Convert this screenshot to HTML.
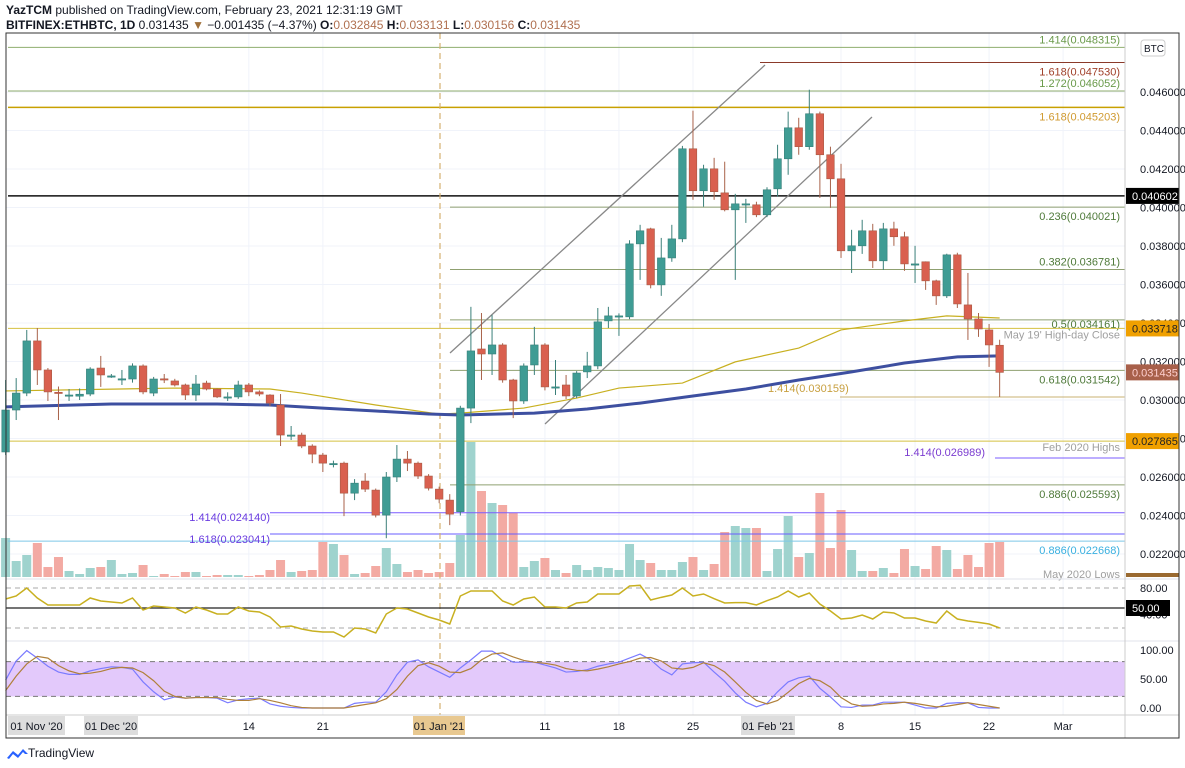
<!DOCTYPE html>
<html><head><meta charset="utf-8">
<style>
html,body{margin:0;padding:0;background:#fff;width:1185px;height:768px;overflow:hidden}
svg{display:block;font-family:"Liberation Sans",sans-serif}
</style></head>
<body>
<svg id="chart" width="1185" height="768" viewBox="0 0 1185 768">
  <rect x="0" y="0" width="1185" height="768" fill="#fff"/>
  <g font-size="12" fill="#131722">
    <text x="6" y="14"><tspan font-weight="bold">YazTCM</tspan> published on TradingView.com, February 23, 2021 12:31:19 GMT</text>
    <text x="6" y="29"><tspan font-weight="bold">BITFINEX:ETHBTC, 1D</tspan> 0.031435 <tspan fill="#a0703a">▼</tspan> −0.001435 (−4.37%) <tspan font-weight="bold">O:</tspan><tspan fill="#b07050">0.032845</tspan> <tspan font-weight="bold">H:</tspan><tspan fill="#b07050">0.033131</tspan> <tspan font-weight="bold">L:</tspan><tspan fill="#b07050">0.030156</tspan> <tspan font-weight="bold">C:</tspan><tspan fill="#b07050">0.031435</tspan></text>
  </g>
  <g id="grid"></g>
  <g id="vol"></g>
  <g id="ann"></g>
  <g id="ma"></g>
  <g id="candles"></g>
  <g id="ind"></g>
  <g id="axes"></g>
  <rect x="6" y="33" width="1173" height="705" fill="none" stroke="#333" stroke-width="1"/>
  <g>
    <path d="M7 758 l6 -7 l5 4 l5 -6 l5 5 l-3 0 l-2 -2 l-5 6 l-5 -4 l-4 5z" fill="#2962ff"/>
    <text x="28" y="757" font-size="12" fill="#131722">TradingView</text>
  </g>
</svg>
<script>
// Price values in units of 0.0001 BTC
const opens=[273,294.8,303.6,330.7,315.6,304,302.6,302,303.1,316.6,312.5,311,310.9,317.7,303.6,311,309.9,307.8,302.6,308.8,305.7,301.6,301.6,307.8,304.2,302.6,297.4,281.8,281.8,276.1,271.4,267,267.2,251.6,257.9,253.2,240.2,260,269.3,267.2,260.5,253.7,248,242,295.8,326.5,323.9,328.6,310.4,299.5,318.2,328.6,306.8,307.8,302.1,314.6,317.7,341.1,343.7,343.2,381.1,388.9,359.8,373.8,383.7,430.5,408.7,420.1,407.6,398.8,401.9,401.4,396.2,409.7,425.3,441.4,431.6,448.7,427.4,414.9,377.5,380.1,387.9,372.3,388.9,384.8,370.7,371.8,361.9,354.1,375.4,349.4,342.1,336.4,328.45];
const highs=[310.4,311.4,336.4,337.4,316.6,307,305.7,306,317,322.9,313.5,315.6,319,318.5,312,313.5,311,308.5,313,310,306,304,310,308.8,305,303,303.1,286.5,283,277,272.5,268.5,268,258.9,262,254,262.6,276.6,273.5,268,261.5,255,251.1,297,348.4,345.2,344.2,329.5,311,319,338,329.5,320.8,313,315,325,347.8,348.4,345,383,391,389.5,384.2,391,432,450.3,422.2,425.8,423.8,407.1,404.5,403,410.5,432.6,449.8,446.6,461.2,449.8,431.6,422.7,388.4,393.6,391.5,392,392.6,387.4,380.1,372,362.5,376,376.5,366,345.2,339.5,331.31];
const lows=[271.4,289.6,302,307.8,299.5,289.6,299.5,300,302,306.8,311.5,307.8,309,303,302,308.8,307,300,299.5,305,301,299.5,300.6,302,302,296.9,276.1,279.2,275,267.2,262.6,265,239.7,248,252.2,239,228.2,257.4,263.1,259,253,246.4,235,240,288,310.4,313,309,290.6,298,313,305,302.6,300.5,301,311.4,316,337.4,333.3,342,362.4,358,354.1,371.8,382,404,400.4,404,398,362.4,392,395,395,405.6,417,427.4,430,405,399.8,373.8,366,375.9,368.6,367.6,380.1,367.1,360.8,357.2,349.4,353,347.8,331.2,332.8,317.2,301.56];
const closes=[294.8,303.6,330.7,315.6,304.2,303.6,302.6,303,316.1,313,312.5,311,317.7,304.2,310.9,310.9,307.8,302.6,308.3,305.7,301.6,301.6,307.8,304.2,303.1,298.4,281.8,281.8,276.1,271.9,267.2,267,251.6,256.8,253.7,240.2,260,269.3,267.2,260.5,254.2,248.5,240.7,295.8,325.5,323.9,328.6,310.4,299.5,317.7,328.6,306.8,306.8,302.1,314,317.7,340.6,343.7,343.7,381.1,387.9,359.8,373.8,383.7,430.5,408.7,420.1,408.2,398.8,401.9,401.9,396.2,409.2,425.3,441.4,431.6,448.7,427.4,414.9,377.5,380.1,387.9,372.3,388.9,384.8,370.7,370.7,361.9,354.1,375.4,349.9,342.1,336.9,328.6,314.35];
const volumes=[39,16,22,34,10,20,6,3,9,10,17,3,4,12,1,3,1,5,5,1,2,2,2,1,2,7,17,5,6,7,35,33,22,3,4,11,29,13,5,7,4,5,14,42,135,86,74,72,64,10,16,19,7,4,12,7,10,9,7,33,17,14,7,7,15,20,7,13,45,51,49,49,6,28,61,20,24,84,29,67,27,6,6,9,4,28,11,8,31,27,8,22,10,34,35];
const ma200Idx=[0,10,20,25,30,35,40,43,50,55,60,65,70,75,80,85,90,94];
const ma200Val=[296.4,297.9,297.9,297.4,295.8,294.3,292.7,292.2,293.2,295.3,298.4,302.1,305.7,310.4,314.6,319.2,322.4,322.9];
const ma100Idx=[0,16,25,28,35,41,43,49,54,58,64,69,75,79,85,89,94];
const ma100Val=[304.7,306.2,305.7,303.6,297.4,292.7,293.2,295.8,301,306.2,308.8,319.8,327,336.4,341.1,343.7,342.6];
const rsiVals=[63.5,68,80,65,54.5,54.5,54.5,54.5,65,60.5,59,57.5,65,47,53,51.5,50,42.5,51.5,47,41,41,51.5,45.5,44,36.5,21.5,23,18.5,15.5,14,14,6.5,20,18.5,12.5,41,50,48.5,42.5,36.5,32,26,68,75.5,75.5,75.5,60.5,54.5,63.5,66.5,51.5,51.5,50,57.5,59,71,71,71,83,84,62,66,69.5,80,68,71,64,57.5,58,58,54.5,61,66.5,75.5,66.5,72.5,56,45.5,33.5,35,39.5,33.5,44,42.5,35,35,30.5,27.5,45.5,33.5,30.5,28.5,26,20];
const stochK=[48,81,99,86,72,62,58,58,64,68,71,70,67,45,28,14,19,17,18,18,17,9,14,16,17,7,3,1,0,0,0,0,0,8,10,10,28,57,79,83,71,62,53,69,83,98,98,88,79,79,79,74,69,62,63,66,72,76,79,86,93,83,67,57,76,78,79,62,46,26,10,2,8,28,45,52,55,34,19,2,1,5,5,10,10,10,5,0,0,8,9,9,1,0,0];
const stochD=[30,55,76,89,86,73,64,59,60,63,68,70,69,61,47,29,20,17,18,18,18,15,13,13,16,13,9,4,1,0,0,0,0,3,6,9,16,32,55,73,78,72,62,61,68,83,93,95,88,82,79,77,74,68,65,64,67,71,76,80,86,87,81,69,67,70,78,73,62,45,27,13,7,13,27,42,51,47,36,18,7,3,4,7,8,10,8,5,2,3,6,9,6,3,0];
const priceTicks=[0.022,0.024,0.026,0.028,0.030,0.032,0.034,0.036,0.038,0.040,0.042,0.044,0.046];
const dateLabels=["14","21","11","18","25","8","15","22","Mar"];
const dateIdx=[23,30,51,58,65,79,86,93,100];

const NS="http://www.w3.org/2000/svg";
function mk(parent,tag,attrs,txt){const e=document.createElementNS(NS,tag);for(const k in attrs)e.setAttribute(k,attrs[k]);if(txt!==undefined)e.textContent=txt;parent.appendChild(e);return e;}
const X=i=>5.6+i*10.575;
const Yp=v=>400-(v*1e-4-0.030)/0.002*38.5;
const YP=p=>400-(p-0.030)/0.002*38.5;
const Yv=h=>577-h;
const Yr=v=>608-(v-50)*0.6667;
const Ys=v=>708-v*0.58;
const G=id=>document.getElementById(id);

const grid=G('grid');
priceTicks.forEach(p=>{const l=mk(grid,'line',{x1:6,x2:1125,y1:YP(p),y2:YP(p),stroke:'#f0f3fa'});

});
dateIdx.forEach(i=>{const l=mk(grid,'line',{x1:X(i),x2:X(i),y1:33,y2:715,stroke:'#f0f3fa'});

});

const vol=G('vol');
volumes.forEach((h,i)=>{const up=closes[i]>=opens[i];
const r=mk(vol,'rect',{x:X(i)-4.5,y:Yv(h),width:9,height:h,fill:up?'#9fd3ce':'#f3aaa3'});

});

const ann=G('ann');
const levels=[
 [0.048315,8,'#8fae6e','1.414(0.048315)','#6a9a4a',-4],
 [0.047530,760,'#8b3a2a','1.618(0.047530)','#a0402a',13],
 [0.046052,8,'#8fae6e','1.272(0.046052)','#6a9a4a',-4],
 [0.045203,8,'#c8a000','1.618(0.045203)','#d09a30',13],
 [0.040602,8,'#111','','',0],
 [0.040021,450,'#8fa070','0.236(0.040021)','#4f7a3a',13],
 [0.036781,450,'#8fa070','0.382(0.036781)','#4f7a3a',-4],
 [0.034161,450,'#8fa070','0.5(0.034161)','#4f7a3a',8],
 [0.033718,8,'#d4c040','May 19\' High-day Close','#a0a0a0',10],
 [0.031542,450,'#8fa070','0.618(0.031542)','#4f7a3a',13],
 [0.030159,840,'#c8b070','','',0],
 [0.027865,8,'#d4c040','Feb 2020 Highs','#a0a0a0',10],
 [0.026989,995,'#7b5cff','','',0],
 [0.025593,450,'#8fa070','0.886(0.025593)','#4f7a3a',13],
 [0.024140,270,'#7b5cff','','',0],
 [0.023041,270,'#6a5cff','','',0],
 [0.022668,8,'#7ec8e8','0.886(0.022668)','#3ab0e0',13]
];
levels.forEach(L=>{const y=YP(L[0]);
const l=mk(ann,'line',{x1:L[1],x2:1125,y1:y,y2:y,stroke:L[2],'stroke-width':(L[0]===0.045203||L[0]===0.040602)?1.5:1});


if(L[3]){const t=mk(ann,'text',{x:1120,y:y+L[5],'text-anchor':'end','font-size':11,fill:L[4]},L[3]);

}});
[['1.414(0.030159)',768,392,'#c8a040','start'],['1.414(0.026989)',985,456,'#7b3cd0','end'],['1.414(0.024140)',270,521,'#6a3ce0','end'],['1.618(0.023041)',270,543,'#6a3ce0','end'],['May 2020 Lows',1120,578,'#a0a0a0','end']].forEach(a=>{
const t=mk(ann,'text',{x:a[1],y:a[2],'text-anchor':a[4],'font-size':11,fill:a[3]},a[0]);

});
let c1=mk(ann,'line',{x1:450,y1:353,x2:765,y2:65,stroke:'#888','stroke-width':1.3});


let c2=mk(ann,'line',{x1:545,y1:424,x2:872,y2:117,stroke:'#888','stroke-width':1.3});


let vd=mk(ann,'line',{x1:440,y1:33,x2:440,y2:715,stroke:'#d4b070','stroke-dasharray':'6 4','stroke-width':1.2});



const ma=G('ma');
let p100=mk(ma,'polyline',{points:ma100Idx.map((i,k)=>X(i)+','+Yp(ma100Val[k])).join(' '),fill:'none',stroke:'#c8b020','stroke-width':1.2});


let p200=mk(ma,'polyline',{points:ma200Idx.map((i,k)=>X(i)+','+Yp(ma200Val[k])).join(' '),fill:'none',stroke:'#3d4fa0','stroke-width':3});



const cg=G('candles');
opens.forEach((o,i)=>{const c=closes[i],up=c>=o,col=up?'#3f9c94':'#d9604f',x=X(i);
const w=mk(cg,'line',{x1:x,x2:x,y1:Yp(highs[i]),y2:Yp(lows[i]),stroke:up?'#3a7f79':'#a8624a','stroke-width':1});


const top=Yp(Math.max(o,c)),bot=Yp(Math.min(o,c));
const b=mk(cg,'rect',{x:x-3.8,y:top,width:7.6,height:Math.max(1.2,bot-top),fill:col,stroke:up?'#357f78':'#a85a44','stroke-width':0.6});

});

const ind=G('ind');
[[579,'#e0e3eb'],[641,'#e0e3eb']].forEach(s=>{const l=mk(ind,'line',{x1:6,x2:1179,y1:s[0],y2:s[0],stroke:s[1]});

});
[80,20].forEach(v=>{const l=mk(ind,'line',{x1:6,x2:1125,y1:Yr(v),y2:Yr(v),stroke:'#aaa','stroke-dasharray':'5 4'});

});
let mid=mk(ind,'line',{x1:6,x2:1125,y1:Yr(50),y2:Yr(50),stroke:'#222','stroke-width':1.2});


let rl=mk(ind,'polyline',{points:rsiVals.map((v,i)=>X(i)+','+Yr(v)).join(' '),fill:'none',stroke:'#c8b020','stroke-width':1.5});


let band=mk(ind,'rect',{x:6,y:Ys(80),width:1119,height:Ys(20)-Ys(80),fill:'#e3c9fb'});


[80,20].forEach(v=>{const l=mk(ind,'line',{x1:6,x2:1125,y1:Ys(v),y2:Ys(v),stroke:'#777','stroke-dasharray':'5 4'});

});
let kl=mk(ind,'polyline',{points:stochK.map((v,i)=>X(i)+','+Ys(v)).join(' '),fill:'none',stroke:'#7b7bff','stroke-width':1.2});


let dl=mk(ind,'polyline',{points:stochD.map((v,i)=>X(i)+','+Ys(v)).join(' '),fill:'none',stroke:'#b0803a','stroke-width':1.2});



const ax=G('axes');
let sep=mk(ax,'line',{x1:1125,x2:1125,y1:33,y2:738,stroke:'#ccc'});


let dsep=mk(ax,'line',{x1:6,x2:1179,y1:715,y2:715,stroke:'#ccc'});


priceTicks.forEach(p=>{const t=mk(ax,'text',{x:1140,y:YP(p)+4,'font-size':11,fill:'#131722'},p.toFixed(6));

});
function box(y,bg,fg,txt,name){const r=mk(ax,'rect',{x:1126,y:y-8,width:53,height:16,fill:bg});


const t=mk(ax,'text',{x:1132,y:y+4,'font-size':11,fill:fg},txt);

}
box(YP(0.040602),'#000','#fff','0.040602','level-price-box');
box(YP(0.033718),'#f0a000','#222','0.033718','level-price-box');
box(YP(0.031435),'#a8604a','#ffd0d0','0.031435','last-price-box');
box(YP(0.027865),'#f0a000','#222','0.027865','level-price-box');
let ml=mk(ax,'rect',{x:1126,y:573,width:53,height:4,fill:'#9a6a30'});


let btc=mk(ax,'rect',{x:1141,y:40,width:24,height:16,rx:3,fill:'#fff',stroke:'#ccc'});


let bt=mk(ax,'text',{x:1144,y:52,'font-size':10,fill:'#131722'},'BTC');


[['80.00',Yr(80)],['40.00',Yr(40)],['100.00',Ys(100)],['50.00',Ys(50)],['0.00',Ys(0)]].forEach(a=>{
const t=mk(ax,'text',{x:1140,y:a[1]+4,'font-size':11,fill:'#131722'},a[0]);

});
let rb=mk(ax,'rect',{x:1126,y:Yr(50)-8,width:44,height:16,fill:'#000'});


let rbt=mk(ax,'text',{x:1132,y:Yr(50)+4,'font-size':11,fill:'#fff'},'50.00');


dateLabels.forEach((s,k)=>{const t=mk(ax,'text',{x:X(dateIdx[k]),y:730,'font-size':11,fill:'#131722','text-anchor':'middle'},s);

});
[["01 Nov '20",8,57,'#ddd'],["01 Dec '20",84,54,'#ddd'],["01 Jan '21",413,52,'#e8c890'],["01 Feb '21",741,54,'#ddd']].forEach(a=>{
const r=mk(ax,'rect',{x:a[1],y:716,width:a[2],height:19,fill:a[3]});


const t=mk(ax,'text',{x:a[1]+a[2]/2,y:730,'font-size':11,fill:'#131722','text-anchor':'middle'},a[0]);

});
</script>
</body></html>
